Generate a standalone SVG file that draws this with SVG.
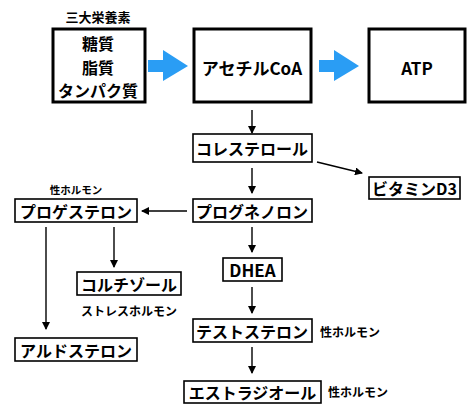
<svg xmlns="http://www.w3.org/2000/svg" width="474" height="413" viewBox="0 0 474 413">
<style>
text{font-family:"Noto Sans CJK JP","Noto Sans",sans-serif;font-weight:bold;fill:#000;text-anchor:middle;dominant-baseline:central}
.big{fill:#fff;stroke:#000;stroke-width:3}
.box{fill:#fff;stroke:#000;stroke-width:1.6}
.t16{font-size:16px}
.t17{font-size:17px}
.s{font-size:11px}
.s12{font-size:12px}
.ln{stroke:#000;stroke-width:1.4;fill:none}
.blue{fill:#2a9df4}
</style>
<defs>
<marker id="ah" markerWidth="8" markerHeight="8" refX="7" refY="4" orient="auto" markerUnits="userSpaceOnUse">
<path d="M0,0 L8,4 L0,8 Z" fill="#000"/>
</marker>
</defs>
<g id="connectors">
<path class="blue" d="M148,60 H163 V50 L188,66 L163,81 V72 H148 Z"/>
<path class="blue" d="M319,60 H334 V50 L359,66 L334,81 V72 H319 Z"/>
<line class="ln" x1="252" y1="110" x2="252" y2="133" marker-end="url(#ah)"/>
<line class="ln" x1="252" y1="168" x2="252" y2="193" marker-end="url(#ah)"/>
<line class="ln" x1="317" y1="162" x2="362" y2="173" marker-end="url(#ah)"/>
<line class="ln" x1="187" y1="211" x2="142" y2="211" marker-end="url(#ah)"/>
<line class="ln" x1="252" y1="227" x2="252" y2="252" marker-end="url(#ah)"/>
<line class="ln" x1="114" y1="227" x2="114" y2="267" marker-end="url(#ah)"/>
<line class="ln" x1="46" y1="227" x2="46" y2="329" marker-end="url(#ah)"/>
<line class="ln" x1="252" y1="287" x2="252" y2="313" marker-end="url(#ah)"/>
<line class="ln" x1="252" y1="347" x2="252" y2="373" marker-end="url(#ah)"/>
</g>
<g id="nutrients">
<text class="s" x="98" y="16" style="font-size:13px">三大栄養素</text>
<rect class="big" x="53" y="29" width="92" height="73"/>
<text class="t16" x="98" y="43">糖質</text>
<text class="t16" x="98" y="67">脂質</text>
<text class="t16" x="98" y="90">タンパク質</text>
</g>
<g id="acetylcoa">
<rect class="big" x="194" y="29" width="117" height="73"/>
<text class="t17" x="252" y="67">アセチルCoA</text>
</g>
<g id="atp">
<rect class="big" x="369" y="29" width="96" height="73"/>
<text class="t17" x="417" y="67">ATP</text>
</g>
<g id="cholesterol">
<rect class="box" x="193" y="134" width="119" height="28"/>
<text class="t16" x="252" y="148">コレステロール</text>
</g>
<g id="vitd3">
<rect class="box" x="369" y="177" width="91" height="22"/>
<text class="t16" x="414.5" y="188">ビタミンD3</text>
</g>
<g id="progesterone">
<text class="s" x="76" y="189" style="font-size:10.5px">性ホルモン</text>
<rect class="box" x="15" y="199" width="122" height="23"/>
<text class="t16" x="76" y="210.5">プロゲステロン</text>
</g>
<g id="pregnenolone">
<rect class="box" x="193" y="199" width="119" height="23"/>
<text class="t16" x="252" y="210.5">プログネノロン</text>
</g>
<g id="dhea">
<rect class="box" x="223" y="258" width="59" height="23"/>
<text class="t17" x="252.5" y="269.5">DHEA</text>
</g>
<g id="cortisol">
<rect class="box" x="77" y="272" width="104" height="23"/>
<text class="t16" x="129" y="283.5">コルチゾール</text>
<text class="s12" x="129" y="310">ストレスホルモン</text>
</g>
<g id="testosterone">
<rect class="box" x="193" y="319" width="119" height="23"/>
<text class="t16" x="252" y="330.5">テストステロン</text>
<text class="s12" x="350" y="331">性ホルモン</text>
</g>
<g id="aldosterone">
<rect class="box" x="15" y="338" width="122" height="23"/>
<text class="t16" x="76" y="349.5">アルドステロン</text>
</g>
<g id="estradiol">
<rect class="box" x="184" y="381" width="137" height="22"/>
<text class="t16" x="252.5" y="392">エストラジオール</text>
<text class="s12" x="358" y="391">性ホルモン</text>
</g>
</svg>
